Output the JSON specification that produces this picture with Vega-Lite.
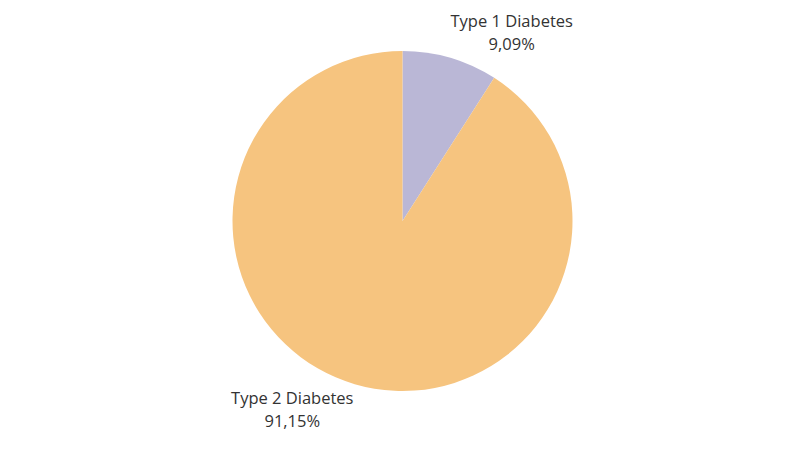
{
  "$schema": "https://vega.github.io/schema/vega-lite/v6.json",
  "width": 805,
  "height": 442,
  "padding": 0,
  "autosize": "none",
  "background": "white",
  "view": {"stroke": null},
  "data": {"values": [
    {"type": "Type 1 Diabetes", "pct": 9.09, "label": "Type 1 Diabetes\n9,09%", "ord": 1},
    {"type": "Type 2 Diabetes", "pct": 91.15, "label": "Type 2 Diabetes\n91,15%", "ord": 2}
  ]},
  "encoding": {
    "theta": {"field": "pct", "type": "quantitative", "stack": true},
    "order": {"field": "ord", "type": "quantitative", "sort": "ascending"}
  },
  "layer": [
    {
      "mark": {"type": "arc", "outerRadius": 170, "strokeWidth": 0},
      "encoding": {
        "color": {"field": "type", "type": "nominal", "legend": null,
          "scale": {"domain": ["Type 1 Diabetes", "Type 2 Diabetes"], "range": ["#BAB7D6", "#F6C47F"]}}
      }
    },
    {
      "mark": {"type": "text", "radius": 200, "dx": 53, "dy": -7, "align": "center", "baseline": "middle", "lineBreak": "\n", "lineHeight": 23, "font": "Open Sans", "fontSize": 16.5, "color": "#333333"},
      "encoding": {"text": {"condition": {"test": "datum.ord == 1", "field": "label"}, "value": ""}}
    },
    {
      "mark": {"type": "text", "radius": 200, "dx": -54, "dy": -14, "align": "center", "baseline": "middle", "lineBreak": "\n", "lineHeight": 23, "font": "Open Sans", "fontSize": 16.5, "color": "#333333"},
      "encoding": {"text": {"condition": {"test": "datum.ord == 2", "field": "label"}, "value": ""}}
    }
  ]
}
